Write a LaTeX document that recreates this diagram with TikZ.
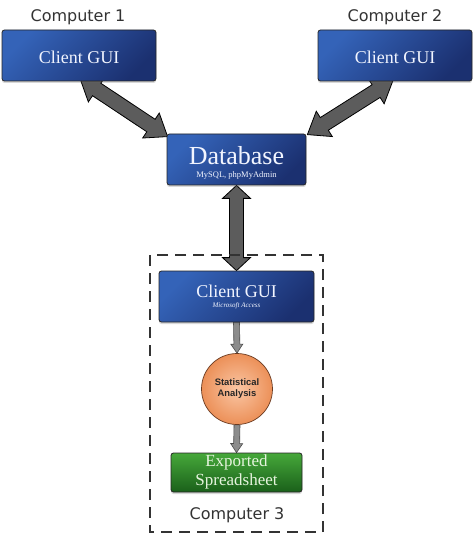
\documentclass[tikz,border=0pt]{standalone}
\usepackage{fontspec}
\setmainfont{Liberation Serif}
\newfontfamily\labfont{DejaVu Sans}
\newfontfamily\arialfont{Liberation Sans}
\usetikzlibrary{calc,shadows}
\definecolor{boxA}{HTML}{3463B8}
\definecolor{boxB}{HTML}{1B3070}
\definecolor{boxtext}{HTML}{F2F5FF}
\definecolor{orA}{HTML}{FAC6A4}
\definecolor{orB}{HTML}{EC9058}
\definecolor{orD}{HTML}{6A3A20}
\definecolor{grA}{HTML}{46A83A}
\definecolor{grB}{HTML}{1A601A}
\definecolor{grtext}{HTML}{E6F4DE}
\definecolor{fatgray}{HTML}{5C5C5C}
\definecolor{thingray}{HTML}{8C8C8C}
\definecolor{dashcol}{HTML}{333333}
\pgfdeclarelayer{background}
\pgfsetlayers{background,main}
\tikzset{
  bluebox/.style={draw=black!85, line width=0.8pt, rounded corners=2.5pt,
    top color=boxA, bottom color=boxB, shading angle=45, inner sep=0pt,
    drop shadow={shadow xshift=0pt, shadow yshift=-2pt, opacity=0.25, fill=black!60}},
  greenbox/.style={draw=black!85, line width=0.8pt, rounded corners=2.5pt,
    top color=grA, bottom color=grB, inner sep=0pt,
    drop shadow={shadow xshift=0pt, shadow yshift=-2pt, opacity=0.25, fill=black!60}},
  boxtxt/.style={text=boxtext, inner sep=0pt, font=\fontsize{18}{20}\selectfont},
  smalltxt/.style={text=boxtext, inner sep=0pt},
  greentxt/.style={text=grtext, inner sep=0pt, font=\fontsize{17}{19}\selectfont},
  orangecirc/.style={circle, draw=orD, line width=0.7pt, inner color=orA, outer color=orB,
    align=center, inner sep=0pt, text=black!85,
    font=\arialfont\bfseries\fontsize{9.4}{11}\selectfont},
  complabel/.style={font=\labfont\fontsize{16}{18}\selectfont, text=black!80, inner sep=0pt},
  fatarrow/.style={fill=fatgray, draw=black, line width=0.8pt, line join=miter},
  thinarrow/.style={fill=thingray, draw=black!70, line width=0.6pt, line join=miter},
  dashframe/.style={draw=dashcol, line width=2.4pt, dash pattern=on 11pt off 7pt}
}
\newcommand\dblarrow[5]{%
\filldraw[fatarrow] (#1)
 -- ($($(#1)!#5!(#2)$)!#4!90:(#2)$) -- ($($(#1)!#5!(#2)$)!#3!90:(#2)$)
 -- ($($(#2)!#5!(#1)$)!#3!-90:(#1)$) -- ($($(#2)!#5!(#1)$)!#4!-90:(#1)$)
 -- (#2)
 -- ($($(#2)!#5!(#1)$)!#4!90:(#1)$) -- ($($(#2)!#5!(#1)$)!#3!90:(#1)$)
 -- ($($(#1)!#5!(#2)$)!#3!-90:(#2)$) -- ($($(#1)!#5!(#2)$)!#4!-90:(#2)$)
 -- cycle;}
\newcommand\sglarrow[5]{%
\filldraw[thinarrow] ($(#1)!#3!90:(#2)$)
 -- ($($(#2)!#5!(#1)$)!#3!-90:(#1)$) -- ($($(#2)!#5!(#1)$)!#4!-90:(#1)$)
 -- (#2)
 -- ($($(#2)!#5!(#1)$)!#4!90:(#1)$) -- ($($(#2)!#5!(#1)$)!#3!90:(#1)$)
 -- ($(#1)!#3!-90:(#2)$) -- cycle;}
\begin{document}
\begin{tikzpicture}[x=1pt,y=-1pt]
\begin{pgfonlayer}{background}
\fill[white] (0,0) rectangle (474,537);
\end{pgfonlayer}
\useasboundingbox (0,0) rectangle (474,537);
% labels
\node[complabel] (l1) at (78,17) {Computer 1};
\node[complabel] (l2) at (395,17) {Computer 2};
\node[complabel] (l3) at (237,515) {Computer 3};
% frame
\draw[dashframe] (150,255) rectangle (323,532);
% boxes
\node[bluebox, minimum width=154pt, minimum height=51pt] (cg1) at (79,55.5) {};
\node[boxtxt] (cg1t) at (79,57) {Client GUI};
\node[bluebox, minimum width=154pt, minimum height=51pt] (cg2) at (395,55.5) {};
\node[boxtxt] (cg2t) at (395,57) {Client GUI};
\node[bluebox, minimum width=139pt, minimum height=51pt] (db) at (236.5,159.5) {};
\node[boxtxt, font=\fontsize{26}{27}\selectfont] (dbt) at (236.5,155.5) {Database};
\node[smalltxt, font=\fontsize{8.5}{9}\selectfont] (dbs) at (236.5,175) {MySQL, phpMyAdmin};
\node[bluebox, minimum width=155pt, minimum height=51pt] (cg3) at (236.5,296.5) {};
\node[boxtxt] (cg3t) at (236.5,291.5) {Client GUI};
\node[smalltxt, font=\fontsize{7}{8}\selectfont\itshape] (cg3s) at (236.5,306) {Microsoft Access};
\node[orangecirc, minimum size=71pt] (sa) at (237,389) {Statistical\\Analysis};
\node[greenbox, minimum width=131pt, minimum height=39pt] (ex) at (236.5,472.5) {};
\node[greentxt] (ext1) at (236.5,462) {Exported};
\node[greentxt] (ext2) at (236.5,481) {Spreadsheet};
% arrows
\begin{pgfonlayer}{background}
\coordinate (a1) at ($(cg1.south)+(1,-3)$);
\coordinate (b1) at ($(db.north west)+(1,3)$);
\coordinate (a2) at ($(cg2.south)+(-2,-1)$);
\coordinate (b2) at ($(db.north east)+(1,1)$);
\dblarrow{a1}{b1}{7.5pt}{15pt}{20pt}
\dblarrow{a2}{b2}{7.5pt}{15pt}{20pt}
\dblarrow{db.south}{cg3.north}{7pt}{14pt}{13pt}
\sglarrow{cg3.south}{sa.north}{3pt}{6pt}{9pt}
\sglarrow{sa.south}{ex.north}{3pt}{6pt}{9pt}
\end{pgfonlayer}
\end{tikzpicture}
\end{document}
